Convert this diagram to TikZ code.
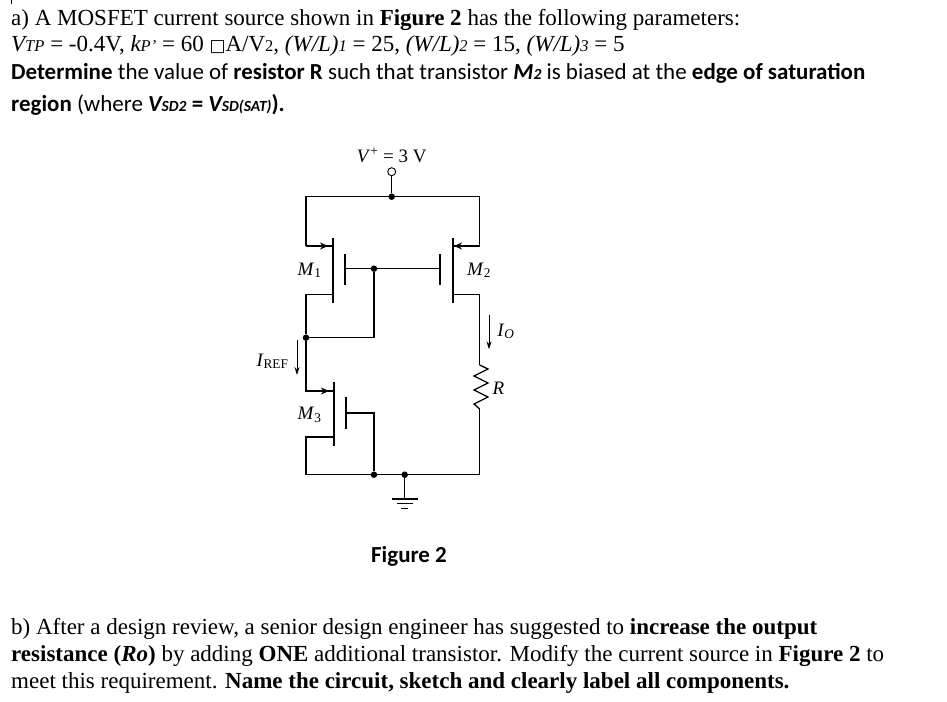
\documentclass[tikz,border=0pt]{standalone}
\usepackage{fontspec}
\setmainfont{Liberation Serif}
\newfontfamily\carl{Carlito}
\usetikzlibrary{arrows.meta}
\newcommand{\tsm}[1]{{\fontsize{16.5}{16.5}\selectfont #1}}
\newcommand{\csm}[1]{{\fontsize{15.5}{15.5}\selectfont #1}}
\tikzset{
  x=1pt,y=-1pt,
  wire/.style={line width=1.3pt,line join=miter},
  plate/.style={line width=2pt},
  ptr/.style={line width=0.8pt,-{Stealth[length=8pt,width=5pt]}},
  srcarrow/.style={line width=1.3pt,-{Stealth[length=8pt,width=7pt]}},
  dotn/.style={circle,fill=black,inner sep=0pt,minimum size=6.5pt},
  opennode/.style={circle,draw=black,fill=white,line width=0.9pt,inner sep=0pt,minimum size=8pt},
  tq/.style={anchor=base west,inner sep=0pt,font=\fontsize{23}{23}\selectfont},
  tc/.style={anchor=base west,inner sep=0pt,font=\carl\fontsize{22.95}{23}\selectfont},
  lab/.style={inner sep=0pt,font=\fontsize{19}{19}\selectfont},
}
\begin{document}
\begin{tikzpicture}
\useasboundingbox (0,0) rectangle (947,701);
\fill[white] (0,0) rectangle (947,701);
\coordinate (tickA) at (11,0); \coordinate (tickB) at (11,4);
\draw[line width=0.7pt] (tickA) -- (tickB);
% text
\node[tq] (l1) at (11,26) {a) A MOSFET current source shown in \textbf{Figure 2} has the following parameters:};
\node[tq] (l2) at (11,52) {\textit{V\tsm{TP}} = -0.4V, \textit{k\tsm{P'}} = 60 {\fontspec{DejaVu Sans}\fontsize{17}{17}\selectfont □}A/V\tsm{2}, \textit{(W/L)\tsm{1}} = 25, \textit{(W/L)\tsm{2}} = 15, \textit{(W/L)\tsm{3}} = 5};
\node[tc] (l3) at (11,79) {\textbf{Determine} the value of \textbf{resistor R} such that transistor \textbf{\textit{M\csm{2}}} is biased at the \textbf{edge of saturation}};
\node[tc] (l4) at (11,111) {\textbf{region} (where \textbf{\textit{V\csm{SD2}} = \textit{V\csm{SD(SAT)}}).}};
\node[tc] (fig) at (371,562) {\textbf{Figure 2}};
\node[tq] (b1) at (11,634) {b) After a design review, a senior design engineer has suggested to \textbf{increase the output}};
\node[tq] (b2) at (11,661) {\textbf{resistance (\textit{Ro}) }by adding \textbf{ONE} additional transistor. Modify the current source in \textbf{Figure 2} to};
\node[tq] (b3) at (11,688) {meet this requirement. \textbf{Name the circuit, sketch and clearly label all components.}};
% nodes
\node[opennode] (vdd) at (391.7,171.7) {};
\node[dotn] (top) at (391.7,196.7) {};
\coordinate (tl) at (306,196.7); \coordinate (tr) at (479.7,196.7);
\coordinate (s1) at (306,246); \coordinate (ch1s) at (332.7,246);
\coordinate (ch1t) at (332.7,238.3); \coordinate (ch1b) at (332.7,302.7);
\coordinate (g1t) at (345.3,253.7); \coordinate (g1b) at (345.3,285.3);
\coordinate (g1) at (345.3,268.7);
\node[dotn] (gn) at (374,268.7) {};
\coordinate (g2t) at (440,253.7); \coordinate (g2b) at (440,285.3); \coordinate (g2) at (440,268.7);
\coordinate (ch2t) at (452.7,238.3); \coordinate (ch2b) at (452.7,302.7);
\coordinate (ch2s) at (452.7,246); \coordinate (s2) at (479.7,246);
\coordinate (ch2d) at (452.7,294.7); \coordinate (d2) at (479.7,294.7);
\coordinate (ch1d) at (332.7,294.7); \coordinate (d1) at (306,294.7);
\node[dotn] (ref) at (306,337.7) {};
\coordinate (gd) at (374,337.7);
\coordinate (s3) at (306,391); \coordinate (ch3s) at (334,391);
\coordinate (ch3t) at (334,381.7); \coordinate (ch3b) at (334,445.7);
\coordinate (g3t) at (346.3,396.7); \coordinate (g3b) at (346.3,428.7);
\coordinate (g3) at (346.3,413); \coordinate (g3r) at (374,413);
\coordinate (ch3d) at (334,437); \coordinate (d3) at (306,437);
\coordinate (bl) at (306,474.7); \coordinate (br) at (479.7,474.7);
\node[dotn] (bn) at (374,474.7) {};
\node[dotn] (gnd) at (404.7,474.7) {};
\coordinate (gbar) at (404.7,499);
\coordinate (rt) at (479.7,365); \coordinate (rb) at (479.7,409);
% wires
\draw[wire] (vdd) -- (top);
\draw[wire] (s1) -- (tl) -- (tr) -- (s2);
\draw[wire] (s1) -- (ch1s);
\draw[wire] (s2) -- (ch2s);
\draw[plate] (ch1t) -- (ch1b);
\draw[plate] (g1t) -- (g1b);
\draw[plate] (g2t) -- (g2b);
\draw[plate] (ch2t) -- (ch2b);
\draw[wire] (g1) -- (gn) -- (g2);
\draw[wire] (gn) -- (gd) -- (ref);
\draw[wire] (ch1d) -- (d1) -- (ref);
\draw[wire] (ref) -- (s3) -- (ch3s);
\draw[plate] (ch3t) -- (ch3b);
\draw[plate] (g3t) -- (g3b);
\draw[wire] (g3) -- (g3r) -- (bn);
\draw[wire] (ch3d) -- (d3) -- (bl) -- (br) -- (rb);
\draw[wire] (ch2d) -- (d2) -- (rt);
\draw[wire] (rt) -- (488,369) -- (474,376) -- (488,383) -- (474,390) -- (488,397) -- (474,404) -- (rb);
\draw[wire] (gnd) -- (gbar);
\draw[line width=1.3pt] (392.3,499) -- (417.7,499);
\draw[line width=1.3pt] (396.7,503.7) -- (413,503.7);
\draw[line width=1.6pt] (401.3,508.3) -- (408,508.3);
% source arrows
\coordinate (a1) at (316,246); \coordinate (a1e) at (328,246);
\coordinate (a2) at (468,246); \coordinate (a2e) at (454,246);
\coordinate (a3) at (316,391); \coordinate (a3e) at (329,391);
\draw[srcarrow] (a1) -- (a1e);
\draw[srcarrow] (a2) -- (a2e);
\draw[srcarrow] (a3) -- (a3e);
% current arrows
\coordinate (ioa) at (489,314.7); \coordinate (iob) at (489,349.3);
\coordinate (ira) at (297,340.3); \coordinate (irb) at (297,375);
\draw[ptr] (ioa) -- (iob);
\draw[ptr] (ira) -- (irb);
% labels
\node[lab,anchor=base] (vl) at (391.7,162) {\textit{V}\textsuperscript{+} = 3 V};
\node[lab,anchor=base] (m1) at (309.5,275) {\textit{M}\textsubscript{1}};
\node[lab,anchor=base] (m2) at (479,275) {\textit{M}\textsubscript{2}};
\node[lab,anchor=base] (m3) at (309.5,419.5) {\textit{M}\textsubscript{3}};
\node[lab,anchor=base] (io) at (506,336) {\textit{I}\textsubscript{\textit{O}}};
\node[lab,anchor=base] (iref) at (272.5,366) {\textit{I}\textsubscript{REF}};
\node[lab,anchor=base] (rl) at (498.5,394) {\textit{R}};
\end{tikzpicture}
\end{document}
